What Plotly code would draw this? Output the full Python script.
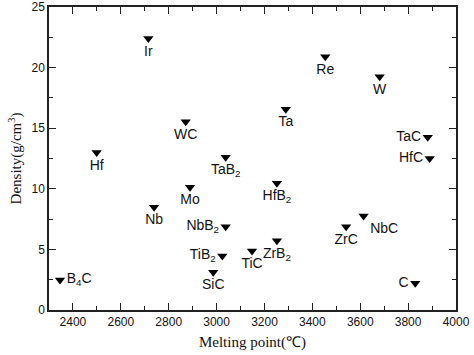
import plotly.graph_objects as go

materials = ["Ir", "WC", "Hf", "TaB<sub>2</sub>", "Re", "W", "Ta", "TaC", "HfC", "Mo", "Nb",
             "NbB<sub>2</sub>", "TiB<sub>2</sub>", "SiC", "B<sub>4</sub>C", "HfB<sub>2</sub>",
             "ZrB<sub>2</sub>", "TiC", "ZrC", "NbC", "C"]
melting_point = [2715, 2871, 2499, 3038, 3454, 3681, 3289, 3882, 3890, 2889, 2739,
                 3038, 3024, 2986, 2346, 3252, 3252, 3148, 3541, 3614, 3830]
density = [22.4, 15.54, 13.0, 12.6, 20.9, 19.25, 16.56, 14.25, 12.5, 10.12, 8.47,
           6.87, 4.46, 3.11, 2.48, 10.45, 5.72, 4.87, 6.87, 7.76, 2.2]
label_pos = ["bottom center", "bottom center", "bottom center", "bottom center", "bottom center",
             "bottom center", "bottom center", "middle left", "middle left", "bottom center",
             "bottom center", "middle left", "middle left", "bottom center", "middle right",
             "bottom center", "bottom center", "bottom center", "bottom center", "bottom right",
             "middle left"]

fig = go.Figure(go.Scatter(
    x=melting_point, y=density, mode="markers+text",
    text=materials, textposition=label_pos,
    textfont=dict(family="Liberation Sans, Arial", size=14, color="#111"),
    marker=dict(symbol="triangle-down", size=9, color="black"),
    cliponaxis=False, showlegend=False,
))

axis_common = dict(
    showline=True, linecolor="#222", linewidth=1.5, mirror="ticks",
    ticks="inside", ticklen=7, tickwidth=1.2, tickcolor="#222",
    showgrid=False, zeroline=False, automargin=False,
    ticklabeloverflow="allow",
    tickfont=dict(family="Liberation Sans, Arial", size=12, color="#111"),
)

fig.update_xaxes(range=[2300, 4000], dtick=200, tick0=2400,
                 minor=dict(dtick=100, ticks="inside", ticklen=4, tickcolor="#222"),
                 title=dict(text="Melting point(℃)", standoff=8,
                            font=dict(family="Liberation Serif, Times New Roman", size=15, color="#111")),
                 **axis_common)
fig.update_yaxes(range=[0, 25], dtick=5,
                 minor=dict(dtick=2.5, ticks="inside", ticklen=4, tickcolor="#222"),
                 title=dict(text="Density(g/cm<sup>3</sup>)", standoff=6,
                            font=dict(family="Liberation Serif, Times New Roman", size=15, color="#111")),
                 **axis_common)

fig.update_layout(
    width=474, height=355,
    margin=dict(l=49, r=18, t=7, b=45),
    plot_bgcolor="white", paper_bgcolor="white",
)

fig.write_html("out.html", config={"displayModeBar": False},
               post_script="document.body.style.margin='0';document.body.style.overflow='hidden';")
